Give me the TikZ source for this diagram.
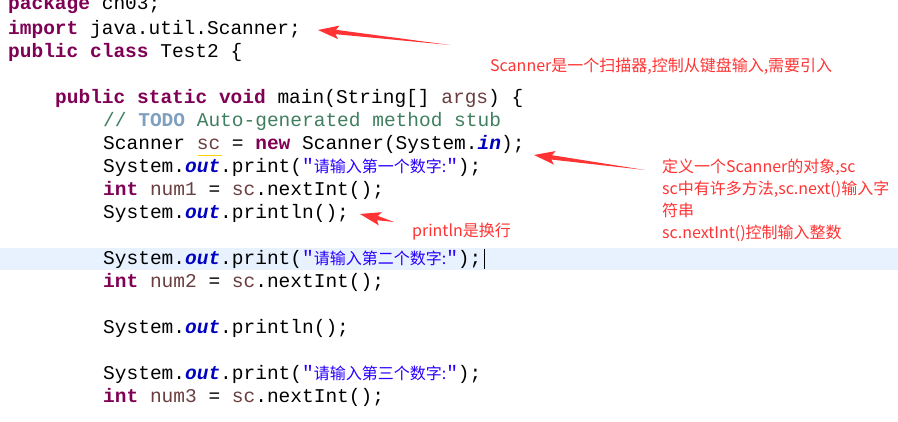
\documentclass[tikz,border=0pt]{standalone}
\usepackage{fontspec}
\usetikzlibrary{calc}
\setmonofont{Liberation Mono}
\newfontfamily\cjk{Noto Sans CJK SC}
\definecolor{kwc}{HTML}{7F0055}
\definecolor{cmc}{HTML}{3F7F5F}
\definecolor{tdc}{HTML}{7F9FBF}
\definecolor{stc}{HTML}{2A00FF}
\definecolor{fdc}{HTML}{0000C0}
\definecolor{vrc}{HTML}{6A3E3E}
\definecolor{anc}{HTML}{FF3333}
\definecolor{hlc}{HTML}{E8F2FE}
\newcommand\KW[1]{{\color{kwc}\bfseries #1}}
\newcommand\FD[1]{{\color{fdc}\bfseries\itshape #1}}
\newcommand\ST[1]{{\color{stc}"{\cjk\fontsize{16}{18}\selectfont #1}"}}
\newcommand\VR[1]{{\color{vrc}#1}}
\newcommand\redarrow[2]{\fill[anc] (#2) -- ($(#2)!22pt!-18:(#1)$) -- ($(#2)!18pt!-7:(#1)$) -- (#1) -- ($(#2)!18pt!7:(#1)$) -- ($(#2)!22pt!18:(#1)$) -- cycle;}
\begin{document}
\begin{tikzpicture}[x=1pt,y=-1pt,
  code/.style={anchor=west,inner sep=0,font=\ttfamily\fontsize{19.5}{22}\selectfont},
  note/.style={anchor=west,inner sep=0,text=anc,font=\cjk\fontsize{16}{22}\selectfont}]
\fill[white] (0,0) rectangle (898,422);
\useasboundingbox (0,0) rectangle (898,422);
\fill[hlc] (0,248) rectangle (898,270);
\node[code] (l1) at (8,5) {\KW{package} ch03;};
\node[code] (l2) at (8,29) {\KW{import} java.util.Scanner;};
\node[code] (l3) at (8,52) {\KW{public} \KW{class} Test2 \{};
\node[code] (l4) at (55,98) {\KW{public} \KW{static} \KW{void} main(String[] \VR{args}) \{};
\node[code] (l5) at (103,121) {{\color{cmc}// {\color{tdc}\bfseries TODO} Auto-generated method stub}};
\node[code] (l6) at (103,144) {Scanner \VR{sc} = \KW{new} Scanner(System.\FD{in});};
\node[code] (l7) at (103,167) {System.\FD{out}.print(\ST{请输入第一个数字:});};
\node[code] (l8) at (103,190) {\KW{int} \VR{num1} = \VR{sc}.nextInt();};
\node[code] (l9) at (103,213) {System.\FD{out}.println();};
\node[code] (l10) at (103,259) {System.\FD{out}.print(\ST{请输入第二个数字:});};
\node[code] (l11) at (103,282) {\KW{int} \VR{num2} = \VR{sc}.nextInt();};
\node[code] (l12) at (103,328) {System.\FD{out}.println();};
\node[code] (l13) at (103,374) {System.\FD{out}.print(\ST{请输入第三个数字:});};
\node[code] (l14) at (103,397) {\KW{int} \VR{num3} = \VR{sc}.nextInt();};
\draw[line width=1.2pt] (l10.east)++(3,-10) -- ++(0,20);
\draw[yellow!70!orange,line width=0.6pt] (l6.west)++(95,11) -- ++(24,0);
\node[note] (n1) at (490,66) {Scanner是一个扫描器,控制从键盘输入,需要引入};
\node[note,align=left,anchor=north west] (n2) at (662,159) {定义一个Scanner的对象,sc\\sc中有许多方法,sc.next()输入字\\符串\\sc.nextInt()控制输入整数};
\node[note] (n3) at (412,232) {println是换行};
\coordinate (t1) at (318,30); \coordinate (s1) at (450,45);
\coordinate (t2) at (534,155); \coordinate (s2) at (645,170);
\coordinate (t3) at (360,214); \coordinate (s3) at (394,222);
\redarrow{s1}{t1}
\redarrow{s2}{t2}
\redarrow{s3}{t3}
\end{tikzpicture}
\end{document}
